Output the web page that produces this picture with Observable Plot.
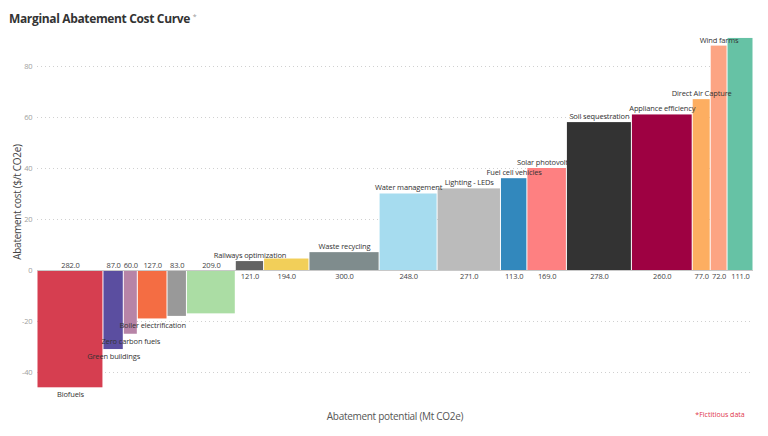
<!DOCTYPE html>
<html>
<head>
<meta charset="utf-8">
<script src="https://cdn.jsdelivr.net/npm/d3@7"></script>
<script src="https://cdn.jsdelivr.net/npm/@observablehq/plot@0.6"></script>
<style>
  body { margin: 0; background: #fff; font-family: "Open Sans", "Noto Sans", sans-serif; }
  #wrap { position: relative; width: 768px; height: 436px; overflow: hidden; }
  .abs { position: absolute; white-space: nowrap; }
  #title { left: 9px; top: 10px; font-size: 12px; font-weight: 700; color: #333; letter-spacing: -0.35px; }
  #title sup { font-size: 7px; font-weight: 400; color: #999; vertical-align: 4px; }
  #ytitle { left: 17px; top: 202px; font-size: 10px; color: #444; letter-spacing: -0.3px; transform: translate(-50%, -50%) rotate(-90deg); }
  #xtitle { left: 395px; top: 416px; font-size: 10px; color: #555; letter-spacing: -0.3px; transform: translate(-50%, -50%); }
  #note { left: 720px; top: 414px; font-size: 7px; color: #e0344a; transform: translate(-50%, -50%); }
  svg text { letter-spacing: -0.15px; }
</style>
</head>
<body>
<div id="wrap">
  <div id="chart"></div>
  <div class="abs" id="title">Marginal Abatement Cost Curve <sup>*</sup></div>
  <div class="abs" id="ytitle">Abatement cost ($/t CO2e)</div>
  <div class="abs" id="xtitle">Abatement potential (Mt CO2e)</div>
  <div class="abs" id="note">*Fictitious data</div>
</div>
<script>
const names = ["Biofuels","Green buildings","Zero carbon fuels","Boiler electrification","","","Railways optimization","","Waste recycling","Water management","Lighting - LEDs","Fuel cell vehicles","Solar photovoltaic","Soil sequestration","Appliance efficiency","Direct Air Capture","Wind farms",""];
const potentials = [282,87,60,127,83,209,121,194,300,248,271,113,169,278,260,77,72,111];
const costs = [-46,-31,-25,-19,-18,-17,3.5,4.5,7,30,32,36,40,58,61,67,88,91];
const colors = ["#d63e50","#5b4ea0","#b784a7","#f46d43","#999999","#abdda4","#636363","#f2cf59","#7f8c8d","#a6dcef","#bbbbbb","#3288bd","#fe8081","#333333","#9e0142","#fdae61","#fca483","#66c2a5"];
const yTicks = [-40,-20,0,20,40,60,80];
const gridTicks = [-40,-20,20,40,60,80];

const ends = d3.cumsum(potentials);
const data = names.map((n, i) => ({
  name: n, pot: potentials[i], cost: costs[i], color: colors[i],
  x1: ends[i] - potentials[i], x2: ends[i], mid: ends[i] - potentials[i] / 2
}));
const total = ends[ends.length - 1];
const neg = data.filter(d => d.cost < 0);
const pos = data.filter(d => d.cost >= 0);

const chart = Plot.plot({
  width: 768, height: 436,
  marginLeft: 37, marginRight: 15, marginTop: 27.75, marginBottom: 38.5,
  style: { fontFamily: "'Open Sans', 'Noto Sans', sans-serif", background: "transparent" },
  x: { domain: [0, total], axis: null },
  y: { domain: [-50, 95], axis: null },
  marks: [
    Plot.ruleY(gridTicks, { stroke: "#d0d0d0", strokeDasharray: "1,3" }),
    Plot.axisY({ ticks: yTicks, tickSize: 0, tickPadding: 5, fill: "#a0a0a0", fontSize: 7.5, tickFormat: d => String(d), label: null }),
    Plot.rectY(data, { x1: "x1", x2: "x2", y1: 0, y2: "cost", fill: d => d.color, insetLeft: 0.5, insetRight: 0.5 }),
    Plot.ruleY([0], { stroke: "#c8c8c8", strokeWidth: 1 }),
    Plot.text(neg, { x: "mid", y: 0, text: d => d.pot.toFixed(1), dy: -5, fill: "#444", fontSize: 7.5 }),
    Plot.text(pos, { x: "mid", y: 0, text: d => d.pot.toFixed(1), dy: 6, fill: "#444", fontSize: 7.5 }),
    Plot.text(neg, { x: "mid", y: "cost", text: "name", dy: 7, fill: "#333", fontSize: 7.5 }),
    Plot.text(pos, { x: "mid", y: "cost", text: "name", dy: -6, fill: "#333", fontSize: 7.5 })
  ]
});
document.getElementById("chart").appendChild(chart);
</script>
</body>
</html>
